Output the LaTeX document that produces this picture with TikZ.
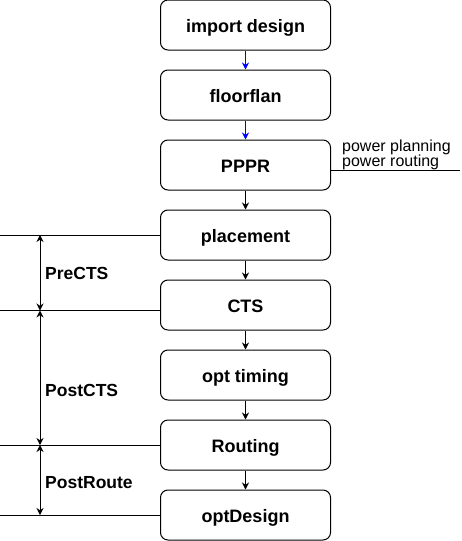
\documentclass[tikz,border=0pt]{standalone}
\usepackage{fontspec}
\setmainfont{Liberation Sans}
\usepackage{tikz}
\usepackage{xcolor}
\usetikzlibrary{shapes.geometric}
\usetikzlibrary{arrows.meta}

\tikzset{
    stage/.style={draw, rounded corners=7.5pt, minimum width=170pt,
	minimum height=50pt, line width=1pt, text height=15pt, text depth=0pt,
	font=\bfseries\fontsize{18}{20}\selectfont},
    flow/.style={-{Stealth[length=7pt,width=7pt]}, line width=1pt},
    span/.style={{Stealth[length=7pt,width=7pt]}-{Stealth[length=7pt,width=7pt]},
	line width=1pt},
    tag/.style={anchor=west, inner sep=0pt,
	font=\bfseries\fontsize{17.5}{20}\selectfont}
}

\begin{document}
\begin{tikzpicture}[x=1pt, y=-1pt]
    \useasboundingbox (0, 0) rectangle (462, 541);

    \path (245.5, 25) node [stage] (im) {import design};
    \path (245.5, 95) node [stage] (fp) {floorflan};
    \draw [flow,blue] (im) -- (fp);
    \path (245.5, 165) node [stage] (pp) {PPPR};
    \draw [flow,blue] (fp) -- (pp);
    \path (245.5, 235) node [stage] (pl) {placement};
    \draw [flow] (pp) -- (pl);
    \path (245.5, 305) node [stage] (ct) {CTS};
    \draw [flow] (pl) -- (ct);
    \path (245.5, 375) node [stage] (ot) {opt timing};
    \draw [flow] (ct) -- (ot);
    \path (245.5, 445) node [stage] (ro) {Routing};
    \draw [flow] (ot) -- (ro);
    \path (245.5, 515) node [stage] (od) {optDesign};
    \draw [flow] (ro) -- (od);

    \path (460, 170) coordinate (pwr);
    \draw [line width=1pt] (pp.east |- pwr) -- (pwr);
    \path (342, 170.5) node [anchor=south west, inner sep=0pt, align=left,
	font=\fontsize{16}{15.5}\selectfont] (pwt)
	{power planning\\power routing};

    \path (0, 235) coordinate (plx) (0, 310.5) coordinate (ctx)
	(0, 445) coordinate (rox) (0, 515) coordinate (odx);
    \draw [line width=1pt] (plx) -- (pl.west |- plx);
    \draw [line width=1pt] (ctx) -- (ct.west |- ctx);
    \draw [line width=1pt] (rox) -- (ro.west |- rox);
    \draw [line width=1pt] (odx) -- (od.west |- odx);

    \path (40, 235) coordinate (a1) (40, 310.5) coordinate (a2)
	(40, 445) coordinate (a3) (40, 515) coordinate (a4);
    \draw [span] (a1) -- (a2);
    \draw [span] (a2) -- (a3);
    \draw [span] (a3) -- (a4);
    \path (45, 273.5) node [tag] (pre) {PreCTS};
    \path (45, 390) node [tag] (post) {PostCTS};
    \path (45, 483) node [tag] (pr) {PostRoute};
\end{tikzpicture}
\end{document}
